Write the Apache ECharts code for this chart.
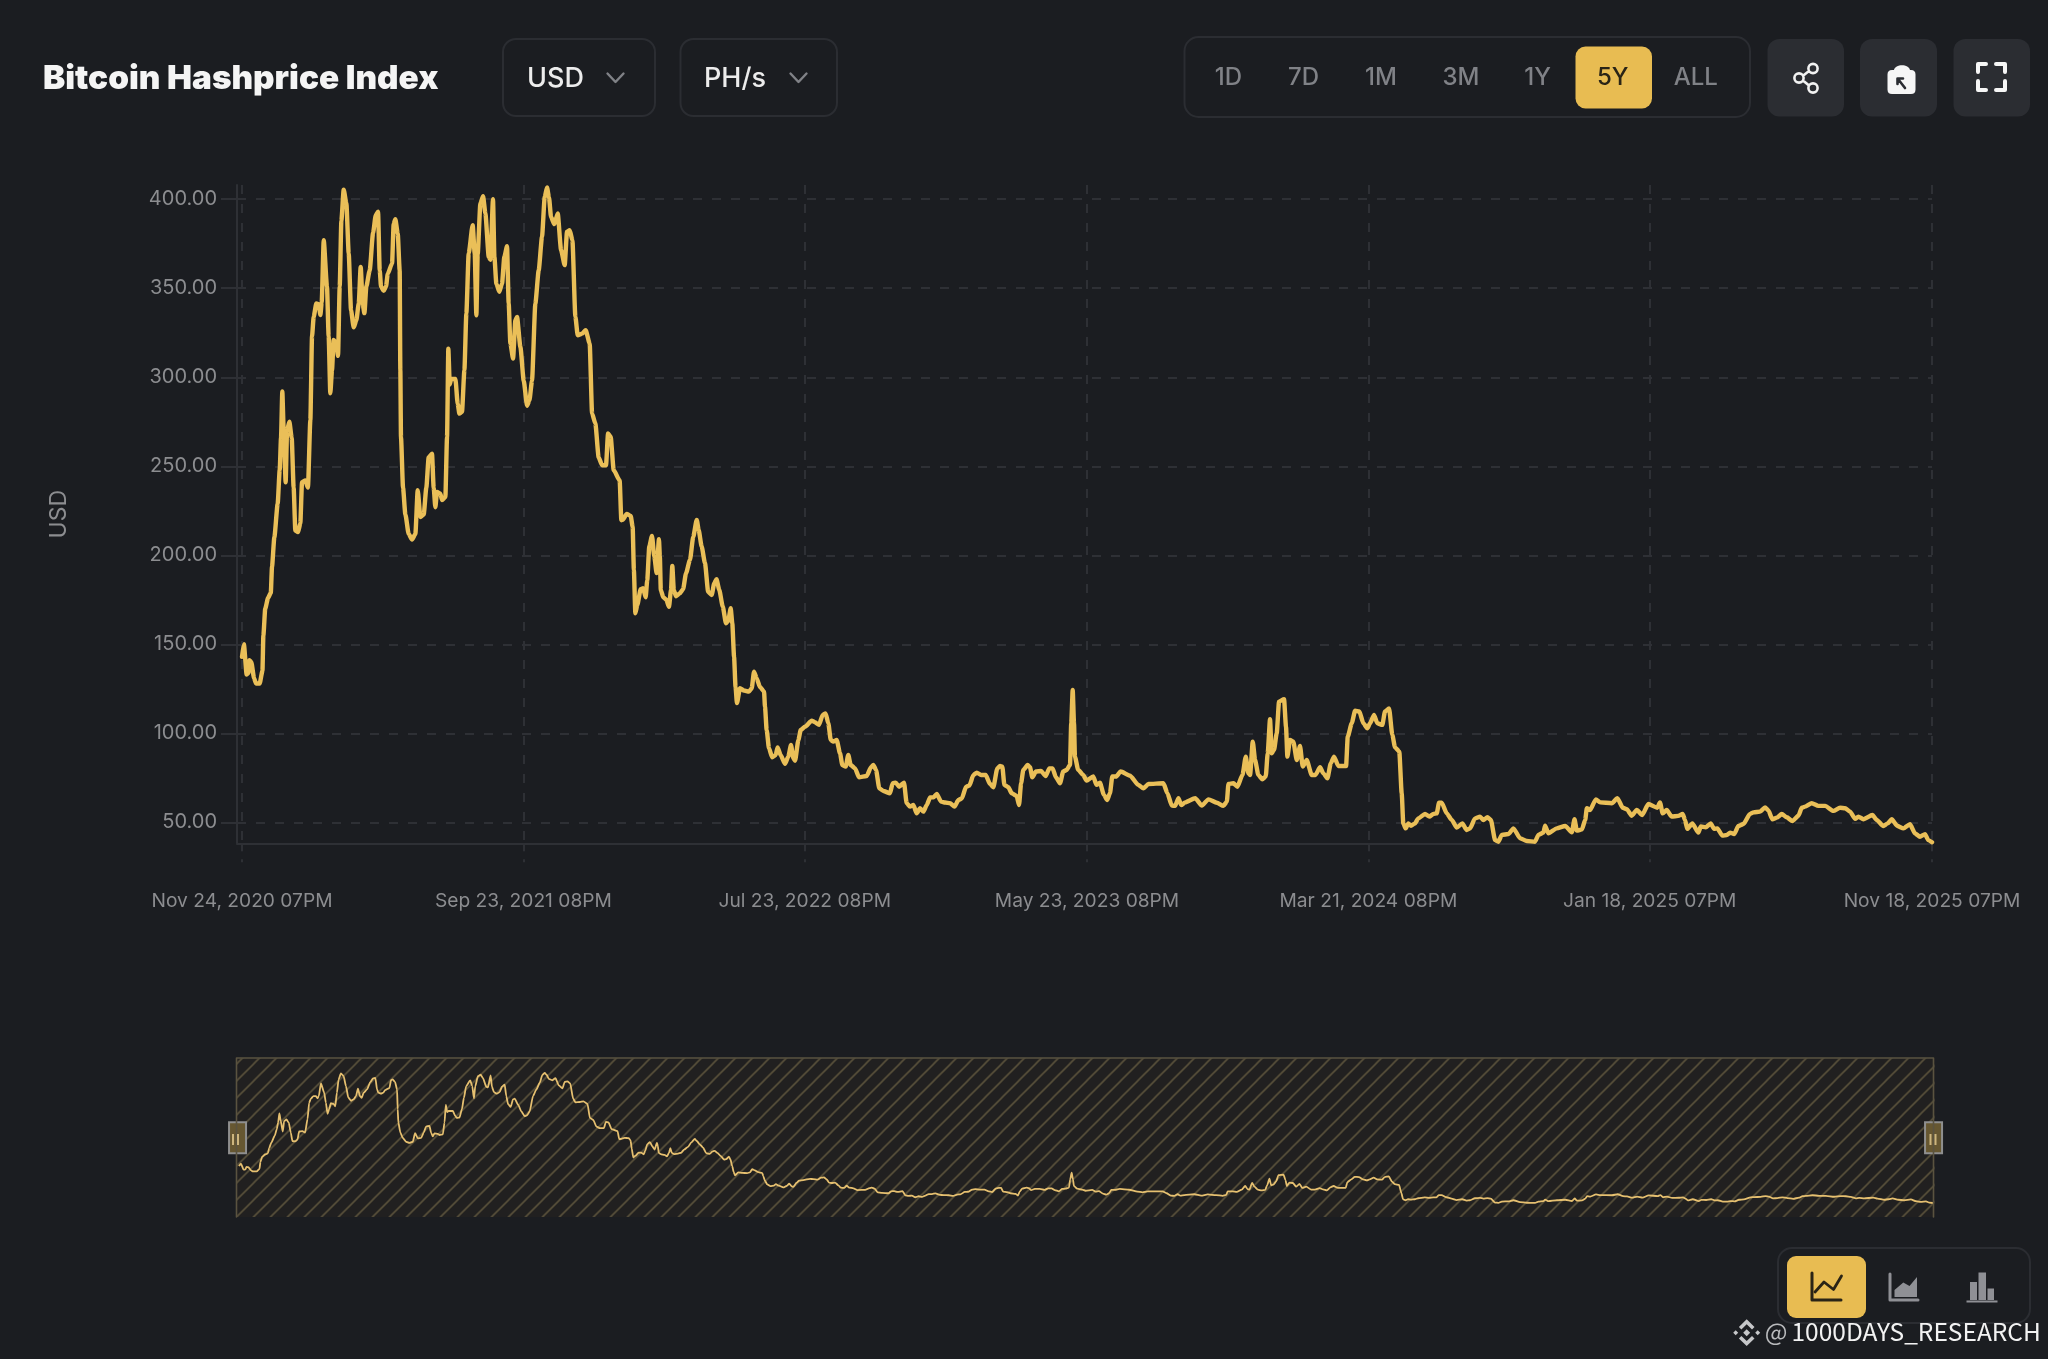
<!DOCTYPE html>
<html><head><meta charset="utf-8">
<style>html,body{margin:0;padding:0;background:#1b1d21}#c{width:2048px;height:1359px}</style>
<script src="https://cdn.jsdelivr.net/npm/echarts@6/dist/echarts.min.js"></script>
</head><body><div id="c"></div>
<script>
const title = 'Bitcoin Hashprice Index';
const yName = 'USD';
const yTicks = [50,100,150,200,250,300,350,400];
const tickDays = [0,303,606,910,1213,1516,1820];
const tickLabels = ['Nov 24, 2020 07PM','Sep 23, 2021 08PM','Jul 23, 2022 08PM','May 23, 2023 08PM','Mar 21, 2024 08PM','Jan 18, 2025 07PM','Nov 18, 2025 07PM'];
const rangeLabels = ['1D','7D','1M','3M','1Y','5Y','ALL'];
// days since the first point
const days = [0,2,5,7,8,10,13,15,19,22,23,25,28,31,32.3,34.8,38.4,40.6,42,43.4,44.9,47,48.5,51,53.5,55.6,57.4,60.3,62.8,64.6,68.2,71,73.6,75.4,77.2,80,82.6,84.4,85.8,88,91.5,93.3,95.1,96.9,98.7,101.6,103.4,105.2,107,109.5,112.4,114.9,117.4,120.3,123.1,125.7,127.8,130,131.8,133.9,137.5,141.1,144,146.5,148.3,149.7,152.6,155.1,156.9,161.6,163.3,165.1,167.7,169.8,170.5,171.2,173.4,175.9,179.5,183.1,186.7,189.2,192.1,195.7,198.5,201,204.6,206.4,208.2,210,213.6,215.4,219,220.8,222.2,223.7,225.1,229.8,232.3,234.1,236.9,239.5,241.6,244.1,248.4,250.6,252.4,253.8,256.7,259.6,262.1,265.7,267.5,270.3,271.8,273.9,277.1,280,282.5,285.4,287.2,289,291.9,294.4,296.2,299.8,303.4,307,309.5,312.3,315.9,319.5,323.1,326,328.5,330.6,332.8,336.4,340,343.6,347.5,350,352.9,355.8,359,361.5,366.2,370.1,374.4,377,380.5,384.1,387.7,392,394.2,397,400.3,406.7,408.5,410,414.3,418.6,420.7,422,423.6,425.7,429.3,432,434.7,436.4,438.6,441.5,444,446.5,449,450,451,453.7,457,459.8,462,463.4,465,467.4,471.7,475,478.2,482.4,486,489.7,491.8,495,498.6,502,505.8,508.6,511,514,517.7,521.2,523.5,526.3,528,529.9,531.5,533,536.3,540.6,546,548.9,551.4,554.2,557.8,562.2,563.2,565,567.5,571,574.7,576.8,580,584.8,588.3,591.2,593.8,595.6,599.2,601.7,606.3,613.5,617,621.4,625.3,628.5,631.4,634,636.8,640.4,644,646.5,650.1,652.9,655.5,660.2,664.4,672.7,677.4,679.9,682.8,686.3,690.7,697.8,700.7,704,707.6,712.9,715.8,719.4,723,726.6,730.2,733.8,737.4,741,744.6,748.2,752.9,757.2,762.5,767.3,771.5,775.1,779.8,783.3,787.7,791.3,795.9,800.9,805.5,809.1,813.4,816.3,818.8,821,825.3,828.9,834.3,836.8,839,841.4,846.1,848.6,851.1,855,860.4,865.5,869.4,873,876.5,880.9,884.4,888,891.7,893,894.6,896,897,900.5,905.9,909.5,916.7,920.3,923.9,928.2,931.8,934.7,937.2,941.2,946.3,956.3,965.3,970.7,976.2,992.3,996.6,1001.3,1004.9,1008.5,1011.4,1015.7,1026.5,1033.7,1040.8,1049.8,1056.9,1060.6,1062.3,1067.7,1072,1077.4,1081,1083.8,1085.6,1088.5,1091,1094.5,1098.8,1102.5,1104.6,1107.1,1108.9,1111.4,1114.3,1116.8,1122.2,1124.3,1125.8,1128.6,1132.2,1135.9,1139.4,1142.3,1146.6,1152,1156,1161,1164.6,1168.9,1172.5,1176,1180.7,1189,1190.8,1195.1,1198.7,1203.3,1207.6,1211.9,1214.8,1219.1,1222.7,1228,1230.9,1235.3,1238.8,1241.7,1246.3,1248.9,1250.6,1253.2,1256,1258.9,1263.2,1266.8,1274,1278.7,1283,1286.6,1289.1,1292,1297.4,1302.8,1308.2,1314.2,1318.9,1322.5,1327.9,1333.3,1336.9,1341.2,1344.9,1349.5,1353,1356.7,1363.8,1369.2,1376.4,1383.6,1392.5,1396.1,1401.5,1403.3,1406.9,1415.9,1425,1432.1,1435,1437.5,1443,1446.5,1448.3,1451.8,1458,1462.6,1475.2,1481.2,1487,1491.3,1496.7,1502,1508,1514.5,1524.2,1527,1530,1534.3,1539.7,1546.8,1551.5,1554,1556.5,1561.9,1568.4,1571,1576.3,1581.7,1585.3,1588.9,1594.2,1599,1602.5,1606.9,1611.5,1616.9,1624,1627.7,1634.9,1640.2,1643.8,1648.1,1652.9,1658.2,1663.6,1669.7,1676.1,1679.8,1683.3,1690.5,1697.6,1704.9,1713.8,1721,1726.4,1731.8,1737.2,1740.7,1746.1,1755.8,1760.5,1767.6,1772.3,1776.6,1782.7,1789.2,1796.3,1801.7,1807,1812.5,1816,1820];
// hashprice, USD per PH/s
const hashprice = [143,150,133,134,141,140,131,128,128,135,155,170,176,179,193.5,210,229,248,266,292,270,241,270,275,266,238,214,213,218,241,242,238,276,323,334,341.4,341,335,342,377,351,323,291,304,321,319,312,351,388,405.4,397.6,369.5,337.6,328,332,341.4,362,341,336,351,360,381,391,393,360,351,348.5,351,358,364,386,388.8,380.7,360,304,266.5,238,223,212,208.8,212,236.5,221.5,223,238,255,257,238,227,235.6,234.6,231,232.8,266.5,316,296,299,299,285,279.6,280.5,304,335.8,369.5,385.4,369.5,334.8,369,397.6,401.7,392,367.6,366,400,367.6,352.6,348,352.6,367.6,373.6,341.4,319,310.5,332,333.9,317,298,284,287,298,341.4,360,379,401.3,406.6,401,390,386,392,371.4,363,381.7,382.6,377,334,323.6,324.5,326.4,319,279.6,274,255,250.6,250.6,268.4,266.5,247.8,242,219.7,219.9,223.2,222.1,216,191.8,167.4,172,181,181.5,176.4,186,204.9,210.9,199.3,190,209,199.3,180.5,176.4,175,171,180.5,194,180.5,177,178.7,181,189.9,197.4,210.5,219.9,214.2,204.9,195.5,179.6,177.7,184.3,186.5,180.5,171.2,161.8,163,170.2,161.8,143,126,117,125.3,124,123.4,125.3,134.6,131,126,123.4,115,101.9,91.6,86.5,87.8,92,87.8,82.8,86.9,93.4,86,84.6,96.3,101.9,103.7,107.1,106.2,104.7,110.3,111.2,105.6,96.3,95.3,96.3,88.8,82.2,81.3,87.8,82.2,80.3,75.3,76,80.9,82.2,79.4,69.1,67.6,66.3,71.9,72.3,70,72.3,60.7,58.8,59.7,55,57.9,56,59.7,64,64,65.9,61.6,61.1,60.7,58.8,62.5,63.4,70,70.6,76.6,77.9,76.6,76.6,71.5,69.7,80.3,81.6,81.3,71,69.7,66.3,64.8,59.7,71.9,79.4,82.2,80.9,75.3,78.5,78.8,76,80.3,80.3,75.3,71.9,78.5,79.4,82.2,105.6,124.3,105.6,86.9,79.4,76.6,73.4,75.7,71,72.3,65.4,62.5,66.3,75.7,75.7,78.5,76.2,71,69.1,71.5,71.9,66.3,59.4,59.2,63.5,59.7,61.2,63.5,59.4,62.9,61,59.2,61.6,71.5,71.9,70,76.6,86.9,77.5,76.6,95.3,85,76.6,74.2,75.7,88.8,107.9,88.8,90.6,100,117.8,119.1,103.7,86.9,96.3,95.3,85,92.9,81.3,85,76.6,76.6,80.9,77.5,74.7,83.1,86.9,81.6,81.6,98.1,105.6,112.7,112.2,105.6,102.8,105.6,110.3,105.6,104.7,112.2,114,99.1,92.1,89.7,66.3,49.4,46.6,49.4,48.1,49.4,52.2,54.7,53.2,54.7,55,61,61,55,51.3,47,49.4,45.7,46.6,52.2,53.2,51.3,52.8,51.3,40,39.1,42.9,43.4,46.6,41,39.5,39.1,42.9,44.2,48.1,43.8,46.6,47.9,44.4,51.7,45.3,46,51.3,57.9,56.9,62.9,61.2,60.7,63.5,58.2,57.3,53.7,56.9,54.1,60.3,58.2,61.2,55,56.9,53.2,53.6,54.7,51.3,46.3,49.4,44.2,47.6,47.2,49.4,46.3,46.6,42.5,42.9,44.2,43.4,47.9,49,54.7,55.6,56,58.4,56.6,51.7,52.6,54.7,52.8,50.7,53.7,58.2,58.8,60.7,59.2,59.2,56.4,58.2,57.9,56,51.9,53.2,51.7,54.1,51.3,47.9,49.4,51.7,47.9,46.6,48.9,43.8,41.9,43.3,40,38.8];

const BG='#1b1d21', GOLD='#eabf58', BTN='#e8bc52', GRID='#2e3035', BORDER='#2b2d32', PANEL='#2b2d32', MUTED='#808287', LABEL='#8c8d90';
const FONT='Inter, "Noto Sans", sans-serif';
const points = days.map((d,i)=>[d,hashprice[i]]);

// hatch tile for the slider window
const tile=document.createElement('canvas'); tile.width=17; tile.height=17;
(function(){const g=tile.getContext('2d');g.fillStyle='rgba(60,52,30,0.18)';g.fillRect(0,0,17,17);
 g.strokeStyle='rgba(150,133,90,0.5)';g.lineWidth=1.6;g.lineCap='square';
 g.beginPath();g.moveTo(-3,-3);g.lineTo(20,20);g.moveTo(-3,14);g.lineTo(3,20);g.moveTo(14,-3);g.lineTo(20,3);g.stroke();})();

function box(x,y,w,h,r,fill,stroke){return {type:'rect',silent:true,shape:{x,y,width:w,height:h,r},style:{fill:fill||'transparent',stroke:stroke||null,lineWidth:stroke?2:0}};}
function label(t,x,y,size,fill,weight,font,align){return {type:'text',silent:true,style:{text:t,x,y,fill,fontSize:size,fontWeight:weight||400,fontFamily:font||FONT,align:align||'center',verticalAlign:'middle'}};}
let iconCount=0;
function iconShape(d){const name='uiIcon'+(iconCount++);echarts.graphic.registerShape(name,echarts.graphic.extendPath(d,{}));return name;}
function stroke(d,color,w){return {type:iconShape(d),silent:true,shape:{},style:{fill:'none',stroke:color,lineWidth:w,lineCap:'round',lineJoin:'round'}};}
function fillPath(d,color){return {type:iconShape(d),silent:true,shape:{},style:{fill:color}};}

const rangeCenters=[1228.5,1303.5,1381,1461,1537.7,1612.8,1695.8];
const chrome=[
 label(title,43,79,33.3,'#f4f4f4',900,FONT,'left'),
 box(503,39,152,77,13,null,BORDER),
 label('USD',555.5,79,27,'#ececec',500),
 box(680.5,39,156.5,77,13,null,BORDER),
 label('PH/s',735,79,27,'#ececec',500),
 stroke('M607.5 73.5L615.5 82L623.5 73.5',MUTED,2.4),
 stroke('M790.5 73.5L798.5 82L806.5 73.5',MUTED,2.4),
 box(1184.5,37,565.5,80,14,null,BORDER),
 box(1575.5,46.5,76.5,62,10,BTN),
 ...rangeLabels.map((t,i)=>label(t,rangeCenters[i],78,24,t==='5Y'?'#2a2416':MUTED,500)),
 box(1767.5,39,76.5,77.5,12,PANEL),
 box(1860,39,77,77.5,12,PANEL),
 box(1953.5,39,76.5,77.5,12,PANEL),
 stroke('M1808.4 68.5a4.6 4.6 0 1 0 9.2 0a4.6 4.6 0 1 0 -9.2 0M1794.4 78a4.6 4.6 0 1 0 9.2 0a4.6 4.6 0 1 0 -9.2 0M1808.4 88a4.6 4.6 0 1 0 9.2 0a4.6 4.6 0 1 0 -9.2 0M1803 75.7L1809 71M1803 80.4L1809 85.6','#f2f2f2',2.6),
 fillPath('M1892 70H1894C1895 63.5 1909 63.5 1910 70H1911Q1915.5 70 1915.5 74.5V89.5Q1915.5 94 1911 94H1892Q1887.5 94 1887.5 89.5V74.5Q1887.5 70 1892 70Z','#f6f6f6'),
 stroke('M1905 88L1898 79M1897.5 84V78.5H1903','#2b2d32',2.6),
 stroke('M1978 72V64H1986M1996 64H2005V72M2005 81V90H1996M1986 90H1978V81','#f6f6f6',4),
 box(1778,1248,252,75,14,null,BORDER),
 box(1787,1256,79,62,9,BTN),
 stroke('M1812 1273V1300H1841','#2a2416',3),
 stroke('M1815 1292L1824 1282L1833.5 1289.5L1841.5 1276','#2a2416',2.8),
 stroke('M1890 1274V1300H1918','#8f9095',3),
 fillPath('M1894.5 1297V1290L1903.3 1282.5L1909.5 1286L1917 1277V1297Z','#8f9095'),
 fillPath('M1970 1282H1977V1300H1970ZM1978.5 1272.5H1986V1300H1978.5ZM1987.5 1288.5H1994V1300H1987.5ZM1966.5 1300.5H1997.5V1302.5H1966.5Z','#8f9095'),
 fillPath('M1746.7 1319.3L1754.5 1327L1752 1329.5L1746.7 1324.3L1741.4 1329.5L1738.9 1327ZM1746.7 1329.2L1750.2 1332.7L1746.7 1336.2L1743.2 1332.7ZM1757.7 1330.2L1760.2 1332.7L1757.7 1335.2L1755.2 1332.7ZM1735.7 1330.2L1738.2 1332.7L1735.7 1335.2L1733.2 1332.7ZM1746.7 1346.1L1754.5 1338.4L1752 1335.9L1746.7 1341.1L1741.4 1335.9L1738.9 1338.4Z','#c6c7c9'),
 label('@',1776,1331.5,24,'#b9babc',400,'"Noto Sans CJK SC"'),
 label('1000DAYS_RESEARCH',1791.5,1332,24.5,'#f2f2f2',400,'"Noto Sans CJK SC"','left'),
 stroke('M236.5 1217V1058H1933.5V1217','#5a5340',1.6),
 box(232,1134,2,11,0,'#cdb67e'),box(237,1134,2,11,0,'#cdb67e'),
 box(1929.5,1134,2,11,0,'#cdb67e'),box(1934.5,1134,2,11,0,'#cdb67e')
];
chrome.forEach(e=>{e.z=100;});

const chart=echarts.init(document.getElementById('c'),null,{width:2048,height:1359});
chart.setOption({
 animation:false,backgroundColor:BG,
 grid:[{left:237,width:1695,top:185,height:658.3},{left:239,width:1694,top:1058,height:158.7}],
 xAxis:[{type:'value',min:-5.4,max:1820,
   axisLine:{show:true,lineStyle:{color:GRID,width:2}},
   axisTick:{show:true,length:19,customValues:tickDays,lineStyle:{color:GRID,width:2,type:[8,8]}},
   axisLabel:{customValues:tickDays,margin:48,fontSize:19.2,fontFamily:FONT,color:LABEL,
     formatter:v=>tickLabels[tickDays.indexOf(v)]||''},
   splitLine:{show:true,lineStyle:{color:GRID,width:2,type:[9,10]}}},
  {type:'value',gridIndex:1,min:0,max:1820,show:false,splitLine:{show:false}}],
 yAxis:[{type:'value',min:38.2,max:408,name:yName,nameLocation:'middle',nameGap:166,nameRotate:90,
   nameTextStyle:{color:LABEL,fontSize:23,fontFamily:FONT},
   axisLine:{show:true,onZero:false,lineStyle:{color:GRID,width:2}},
   axisTick:{show:true,length:16,customValues:yTicks,lineStyle:{color:GRID,width:2}},
   axisLabel:{customValues:yTicks,margin:20,fontSize:20,fontFamily:FONT,color:LABEL,formatter:v=>v.toFixed(2)},
   splitLine:{show:true,lineStyle:{color:GRID,width:2,type:[9,10]}}},
  {type:'value',gridIndex:1,min:0,max:449,show:false,splitLine:{show:false}}],
 dataZoom:[{type:'slider',xAxisIndex:[0,1],filterMode:'none',start:0,end:100,left:235,width:1698,top:1058,height:158.7,
   showDetail:false,showDataShadow:false,brushSelect:false,backgroundColor:'transparent',borderColor:'transparent',borderRadius:0,
   fillerColor:{image:tile,repeat:'repeat'},moveHandleSize:0,
   handleIcon:'path://M0 0H17V31H0Z',handleSize:31,handleStyle:{color:'#665731',borderColor:'#8f8f8f',borderWidth:2}}],
 series:[
  {type:'line',data:points,xAxisIndex:0,yAxisIndex:0,showSymbol:false,smooth:0.2,smoothMonotone:'x',
   lineStyle:{color:GOLD,width:4.4,cap:'round',join:'round'},clip:false,z:5},
  {type:'line',data:points,xAxisIndex:1,yAxisIndex:1,showSymbol:false,smooth:0.2,smoothMonotone:'x',
   lineStyle:{color:'#e6c070',width:1.8},z:5}
 ],
 graphic:{elements:chrome}
});
</script></body></html>
